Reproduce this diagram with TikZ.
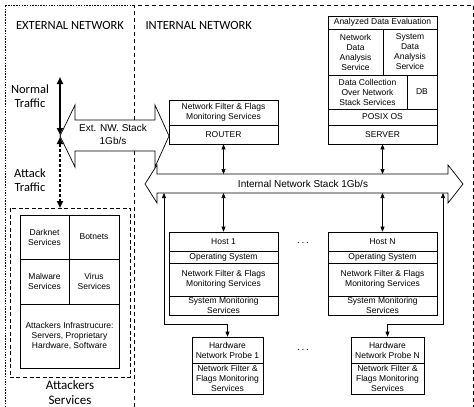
\documentclass[tikz,border=0pt]{standalone}
\usepackage{fontspec}
\setmainfont{Liberation Sans}
\newfontfamily\headfont{Carlito}
\usetikzlibrary{arrows.meta,calc}

% one box of a stack: name, x1, y1, x2, y2, text
\newcommand{\cellbox}[6]{%
  \node[cell, minimum width={#4-#2}, minimum height={#5-#3}] (#1) at ({(#2+#4)/2},{(#3+#5)/2}) {#6};}

\begin{document}
\begin{tikzpicture}[x=1pt, y=-1pt,
    cell/.style={draw, line width=0.7pt, inner sep=1pt, align=center, font=\fontsize{8.5}{10}\selectfont},
    label/.style={align=center, font=\fontsize{10}{13}\selectfont},
    head/.style={align=center, font=\headfont\fontsize{12.5}{14}\selectfont},
    stack/.style={draw, line width=0.7pt, fill=white},
    link/.style={line width=0.7pt, {Triangle[length=5pt,width=4pt]}-{Triangle[length=5pt,width=4pt]}},
    traffic/.style={line width=2pt, {Triangle[length=7pt,width=6pt]}-{Triangle[length=7pt,width=6pt]}}]
    \useasboundingbox (0,0) rectangle (474,407);

    % Network areas
    \draw[line width=0.6pt, dash pattern=on 1.5pt off 1.2pt] (5,407) -- (5,5) -- (134,5);
    \draw[line width=0.7pt, dash pattern=on 4pt off 3pt] (134,407) -- (134,5) -- (473,5) -- (473,407);
    \node[head] (extHead) at (70,25) {EXTERNAL NETWORK};
    \node[head, anchor=west] (intHead) at (142,25) {INTERNAL NETWORK};

    % External stack arrow
    \coordinate (extTip) at (60,136);
    \draw[stack] (extTip) -- (75,105) -- (75,120) -- (155,120) -- (155,105) -- (169,136)
        -- (155,167) -- (155,151) -- (75,151) -- (75,167) -- cycle;
    \node[label] (extLabel) at (113,134) {Ext. NW. Stack\\1Gb/s};

    % Internal stack arrow
    \coordinate (intTop) at (0,174);
    \coordinate (intBot) at (0,193);
    \draw[stack] (145,184) -- (157,165) -- (157,174) -- (448,174) -- (448,165) -- (463,184)
        -- (448,203) -- (448,193) -- (157,193) -- (157,203) -- cycle;
    \node[label] (intLabel) at (303,184) {Internal Network Stack 1Gb/s};

    % Router
    \cellbox{routerNf}{169}{100}{278}{125}{Network Filter \& Flags\\Monitoring Services}
    \cellbox{router}{169}{125}{278}{144}{ROUTER}

    % Server
    \cellbox{anaEval}{328}{16}{437}{29}{Analyzed Data Evaluation}
    \cellbox{netAna}{328}{29}{383}{75}{Network\\Data\\Analysis\\Service}
    \cellbox{sysAna}{383}{29}{437}{75}{System\\Data\\Analysis\\Service}
    \cellbox{dataCol}{328}{75}{407}{109}{Data Collection\\Over Network\\Stack Services}
    \cellbox{db}{407}{75}{437}{109}{DB}
    \cellbox{posix}{328}{109}{437}{125}{POSIX OS}
    \cellbox{server}{328}{125}{437}{144}{SERVER}

    % Hosts
    \cellbox{hostA}{169}{232}{278}{251}{Host 1}
    \cellbox{hostAos}{169}{251}{278}{263}{Operating System}
    \cellbox{hostAnf}{169}{263}{278}{296}{Network Filter \& Flags\\Monitoring Services}
    \cellbox{hostAsm}{169}{296}{278}{315}{System Monitoring\\Services}
    \cellbox{hostN}{328}{232}{437}{251}{Host N}
    \cellbox{hostNos}{328}{251}{437}{263}{Operating System}
    \cellbox{hostNnf}{328}{263}{437}{296}{Network Filter \& Flags\\Monitoring Services}
    \cellbox{hostNsm}{328}{296}{437}{315}{System Monitoring\\Services}

    % Hardware probes
    \cellbox{probeA}{192}{337}{263}{363}{Hardware\\Network Probe 1}
    \cellbox{probeAnf}{192}{363}{263}{394}{Network Filter \&\\Flags Monitoring\\Services}
    \cellbox{probeN}{351}{337}{424}{363}{Hardware\\Network Probe N}
    \cellbox{probeNnf}{351}{363}{424}{394}{Network Filter \&\\Flags Monitoring\\Services}

    \node[label] (dotsHost) at (303,243) {.\,.\,.};
    \node[label] (dotsProbe) at (303,350) {.\,.\,.};

    % Links to the internal stack
    \draw[link] (router.south) -- (router.south |- intTop);
    \draw[link] (server.south) -- (server.south |- intTop);
    \draw[link] (hostA.north |- intBot) -- (hostA.north);
    \draw[link] (hostN.north |- intBot) -- (hostN.north);
    \coordinate (probeLinkA) at (164,193);
    \coordinate (probeLinkN) at (443,193);
    \draw[link] (probeLinkA) |- ($(probeA.north)+(0,-12)$) -- (probeA.north);
    \draw[link] (probeLinkN) |- ($(probeN.north)+(0,-12)$) -- (probeN.north);

    % Attackers services
    \draw[line width=0.7pt, dash pattern=on 4pt off 2.5pt] (10,208) rectangle (130,377);
    \cellbox{darknet}{20}{215}{69}{259}{Darknet\\Services}
    \cellbox{botnets}{69}{215}{119}{259}{Botnets}
    \cellbox{malware}{20}{259}{69}{304}{Malware\\Services}
    \cellbox{virus}{69}{259}{119}{304}{Virus\\Services}
    \cellbox{infra}{20}{304}{119}{368}{Attackers Infrastrucure:\\Servers, Proprietary\\Hardware, Software}
    \node[head, font=\headfont\fontsize{13}{15}\selectfont] (attHead) at (70,393) {Attackers\\Services};

    % Traffic
    \coordinate (normTop) at (60,77);
    \draw[traffic] (normTop) -- ($(extTip)+(0,-1)$);
    \draw[traffic, dash pattern=on 3pt off 2pt] ($(extTip)+(0,1)$) -- (60,208);
    \node[head, font=\headfont\fontsize{12.5}{14}\selectfont] (normLabel) at (30,96) {Normal\\Traffic};
    \node[head, font=\headfont\fontsize{12.5}{14}\selectfont] (attLabel) at (30,180) {Attack\\Traffic};
\end{tikzpicture}
\end{document}
